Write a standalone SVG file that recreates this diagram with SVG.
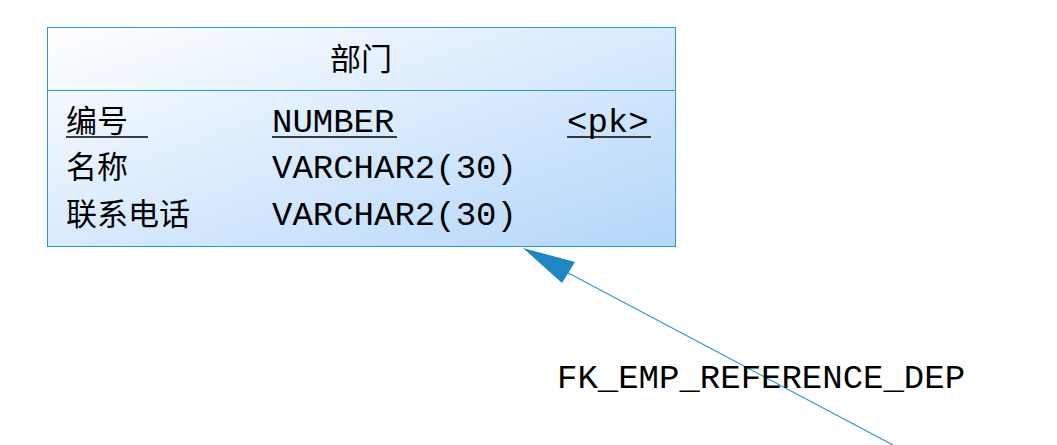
<svg xmlns="http://www.w3.org/2000/svg" width="1057" height="445" viewBox="0 0 1057 445">
<style>
.t{font-family:"Liberation Mono","Noto Sans CJK SC",monospace;font-size:34px;fill:#000}
.c{font-family:"Noto Sans CJK SC","Liberation Sans",sans-serif;font-size:31px;fill:#000}
</style>
<defs>
<linearGradient id="g" x1="0" y1="0" x2="1" y2="1">
<stop offset="0" stop-color="#ffffff"/><stop offset="1" stop-color="#b3d6fa"/>
</linearGradient>
</defs>
<rect width="1057" height="445" fill="#fff"/>
<g id="connectors">
<line x1="540" y1="258" x2="893" y2="445" stroke="#2e97c9" stroke-width="1.2"/>
<polygon points="523,248 575,262 562,283" fill="#1f86c4"/>
<text class="t" x="557" y="388">FK_EMP_REFERENCE_DEP</text>
</g>
<g id="dept">
<rect x="47.5" y="27.5" width="628" height="219" fill="url(#g)" stroke="#2e97c9"/>
<line x1="47.5" y1="90.5" x2="675.5" y2="90.5" stroke="#2e97c9"/>
<text class="c" x="361" y="70" text-anchor="middle">部门</text>
<text class="c" x="66" y="132">编号</text>
<line x1="66" y1="137" x2="148" y2="137" stroke="#000" stroke-width="1.5"/>
<text class="t" x="272" y="132">NUMBER</text>
<line x1="272" y1="137" x2="397" y2="137" stroke="#000" stroke-width="1.5"/>
<text class="t" x="567" y="132">&lt;pk&gt;</text>
<line x1="567" y1="137" x2="651" y2="137" stroke="#000" stroke-width="1.5"/>
<text class="c" x="66" y="178">名称</text>
<text class="t" x="272" y="178">VARCHAR2(30)</text>
<text class="c" x="66" y="225">联系电话</text>
<text class="t" x="272" y="225">VARCHAR2(30)</text>
</g>
</svg>
